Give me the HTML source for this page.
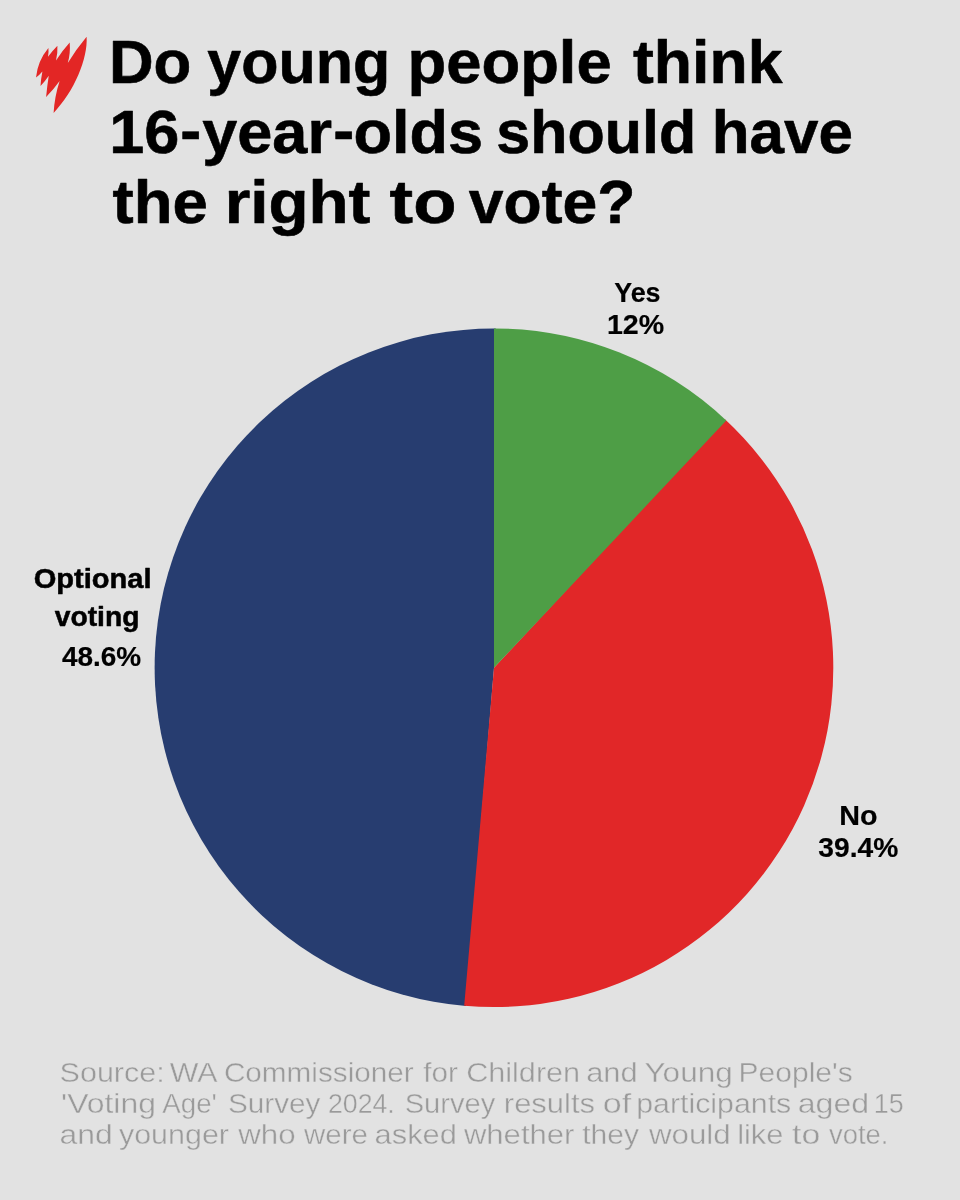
<!DOCTYPE html>
<html lang="en"><head><meta charset="utf-8"><title>Do young people think 16-year-olds should have the right to vote?</title>
<style>
html,body{margin:0;padding:0;background:#e2e2e2;}
body{width:960px;height:1200px;overflow:hidden;font-family:"Liberation Sans",sans-serif;}
svg{display:block;}
svg text{font-family:"Liberation Sans",sans-serif;white-space:pre;stroke-linejoin:round;}
.t{font-size:60.5px;font-weight:bold;fill:#000;stroke:#000;stroke-width:0.6px;}
.l{font-size:27px;font-weight:bold;fill:#000;stroke:#000;stroke-width:0.5px;}
.n{font-size:27px;font-weight:bold;fill:#000;stroke:#000;stroke-width:0.2px;}
.s{font-size:28.4px;font-weight:normal;fill:#9a9a9a;stroke:#e2e2e2;stroke-width:0.4px;}
</style></head><body>
<svg width="960" height="1200" viewBox="0 0 960 1200">
<rect width="960" height="1200" fill="#e2e2e2"/>
<path fill="#e32625" d="M86.6,36.75 C88,58.5 74.2,91.5 53.6,112.9 Q54.5,97 59.6,81 Q53.4,89.7 46.1,97.1 Q47.1,86.4 48.75,75.75 Q45.2,81.2 40.5,85.9 Q41,78.5 42.4,71.5 Q39.6,74.8 36,77.6 Q37.6,60.9 48.4,48 Q48.9,52.3 48,56.7 Q52.3,51 57.4,45.75 Q57.8,53 56,60.4 Q62.4,50.4 69.7,42.4 Q70.6,53 67.8,63.1 Q76,49.4 86.6,36.75 Z"/>
<g id="pie">
<path d="M494.0,667.8 L465.96,1005.94 A339.3,339.3 0 0 1 495.78,328.50 Z" fill="#273d70"/>
<path d="M494.0,667.8 L724.97,419.25 A339.3,339.3 0 0 1 464.19,1005.79 Z" fill="#e12728"/>
<path d="M494.0,667.8 L494.00,328.50 A339.3,339.3 0 0 1 726.27,420.46 Z" fill="#4e9e46"/>
</g>
<g id="text-layer">
<text class="t" transform="translate(108.91,83.00) scale(1.0213,1)">Do</text>
<text class="t" transform="translate(207.30,83.00) scale(1.0079,1)">young</text>
<text class="t" transform="translate(407.51,83.00) scale(1.0471,1)">people</text>
<text class="t" transform="translate(633.00,83.00) scale(1.0345,1)">think</text>
<text class="t" transform="translate(109.28,153.20) scale(1.0425,1)">16<tspan dx="0.77" dy="-1.80">-</tspan><tspan dx="0.93" dy="1.80">year</tspan><tspan dx="1.37" dy="-1.80">-</tspan><tspan dx="-0.92" dy="1.80">olds</tspan></text>
<text class="t" transform="translate(496.28,153.20) scale(1.0088,1)">should</text>
<text class="t" transform="translate(711.70,153.20) scale(1.0242,1)">have</text>
<text class="t" transform="translate(112.50,223.45) scale(1.0506,1)">the</text>
<text class="t" transform="translate(224.66,223.45) scale(1.0846,1)">right</text>
<text class="t" transform="translate(389.60,223.45) scale(1.1709,1)">to</text>
<text class="t" transform="translate(468.80,223.45) scale(1.0329,1)">vote?</text>
<text class="n" transform="translate(614.20,301.60) scale(0.9955,1)">Yes</text>
<text class="n" transform="translate(606.88,334.00) scale(1.0588,1)">12%</text>
<text class="n" transform="translate(839.37,825.00) scale(1.0636,1)">No</text>
<text class="n" transform="translate(818.35,857.40) scale(1.0453,1)">39.4%</text>
<text class="l" transform="translate(33.72,588.40) scale(1.0766,1)">Optional</text>
<text class="l" transform="translate(54.70,625.80) scale(1.0481,1)">voting</text>
<text class="n" transform="translate(61.90,666.40) scale(1.0355,1)">48.6%</text>
<text class="s" transform="translate(59.55,1082.30) scale(1.0753,1)">Source:</text>
<text class="s" transform="translate(169.63,1082.30) scale(1.0698,1)">WA</text>
<text class="s" transform="translate(223.91,1082.30) scale(1.0464,1)">Commissioner</text>
<text class="s" transform="translate(423.25,1082.30) scale(1.0452,1)">for</text>
<text class="s" transform="translate(466.14,1082.30) scale(1.0784,1)">Children</text>
<text class="s" transform="translate(586.13,1082.30) scale(1.0860,1)">and</text>
<text class="s" transform="translate(644.48,1082.30) scale(1.1107,1)">Young</text>
<text class="s" transform="translate(738.53,1082.30) scale(1.0577,1)">People's</text>
<text class="s" transform="translate(61.05,1113.30) scale(1.1250,1)">'Voting</text>
<text class="s" transform="translate(162.32,1113.30) scale(0.9755,1)">Age'</text>
<text class="s" transform="translate(227.91,1113.30) scale(1.0465,1)">Survey</text>
<text class="s" transform="translate(327.95,1113.30) scale(0.9400,1)">2024.</text>
<text class="s" transform="translate(404.65,1113.30) scale(1.0267,1)">Survey</text>
<text class="s" transform="translate(503.82,1113.30) scale(1.0912,1)">results</text>
<text class="s" transform="translate(602.85,1113.30) scale(1.2000,1)">of</text>
<text class="s" transform="translate(636.16,1113.30) scale(1.0683,1)">participants</text>
<text class="s" transform="translate(797.74,1113.30) scale(1.1305,1)">aged</text>
<text class="s" transform="translate(873.86,1113.30) scale(0.9481,1)">15</text>
<text class="s" transform="translate(59.45,1144.00) scale(1.1233,1)">and</text>
<text class="s" transform="translate(118.93,1144.00) scale(1.0723,1)">younger</text>
<text class="s" transform="translate(238.20,1144.00) scale(1.1020,1)">who</text>
<text class="s" transform="translate(303.96,1144.00) scale(1.0390,1)">were</text>
<text class="s" transform="translate(374.53,1144.00) scale(1.0875,1)">asked</text>
<text class="s" transform="translate(463.91,1144.00) scale(1.0939,1)">whether</text>
<text class="s" transform="translate(582.24,1144.00) scale(1.0577,1)">they</text>
<text class="s" transform="translate(648.90,1144.00) scale(1.1028,1)">would</text>
<text class="s" transform="translate(737.13,1144.00) scale(1.0872,1)">like</text>
<text class="s" transform="translate(792.11,1144.00) scale(1.1905,1)">to</text>
<text class="s" transform="translate(829.03,1144.00) scale(0.9655,1)">vote.</text>
</g>
</svg>
</body></html>
